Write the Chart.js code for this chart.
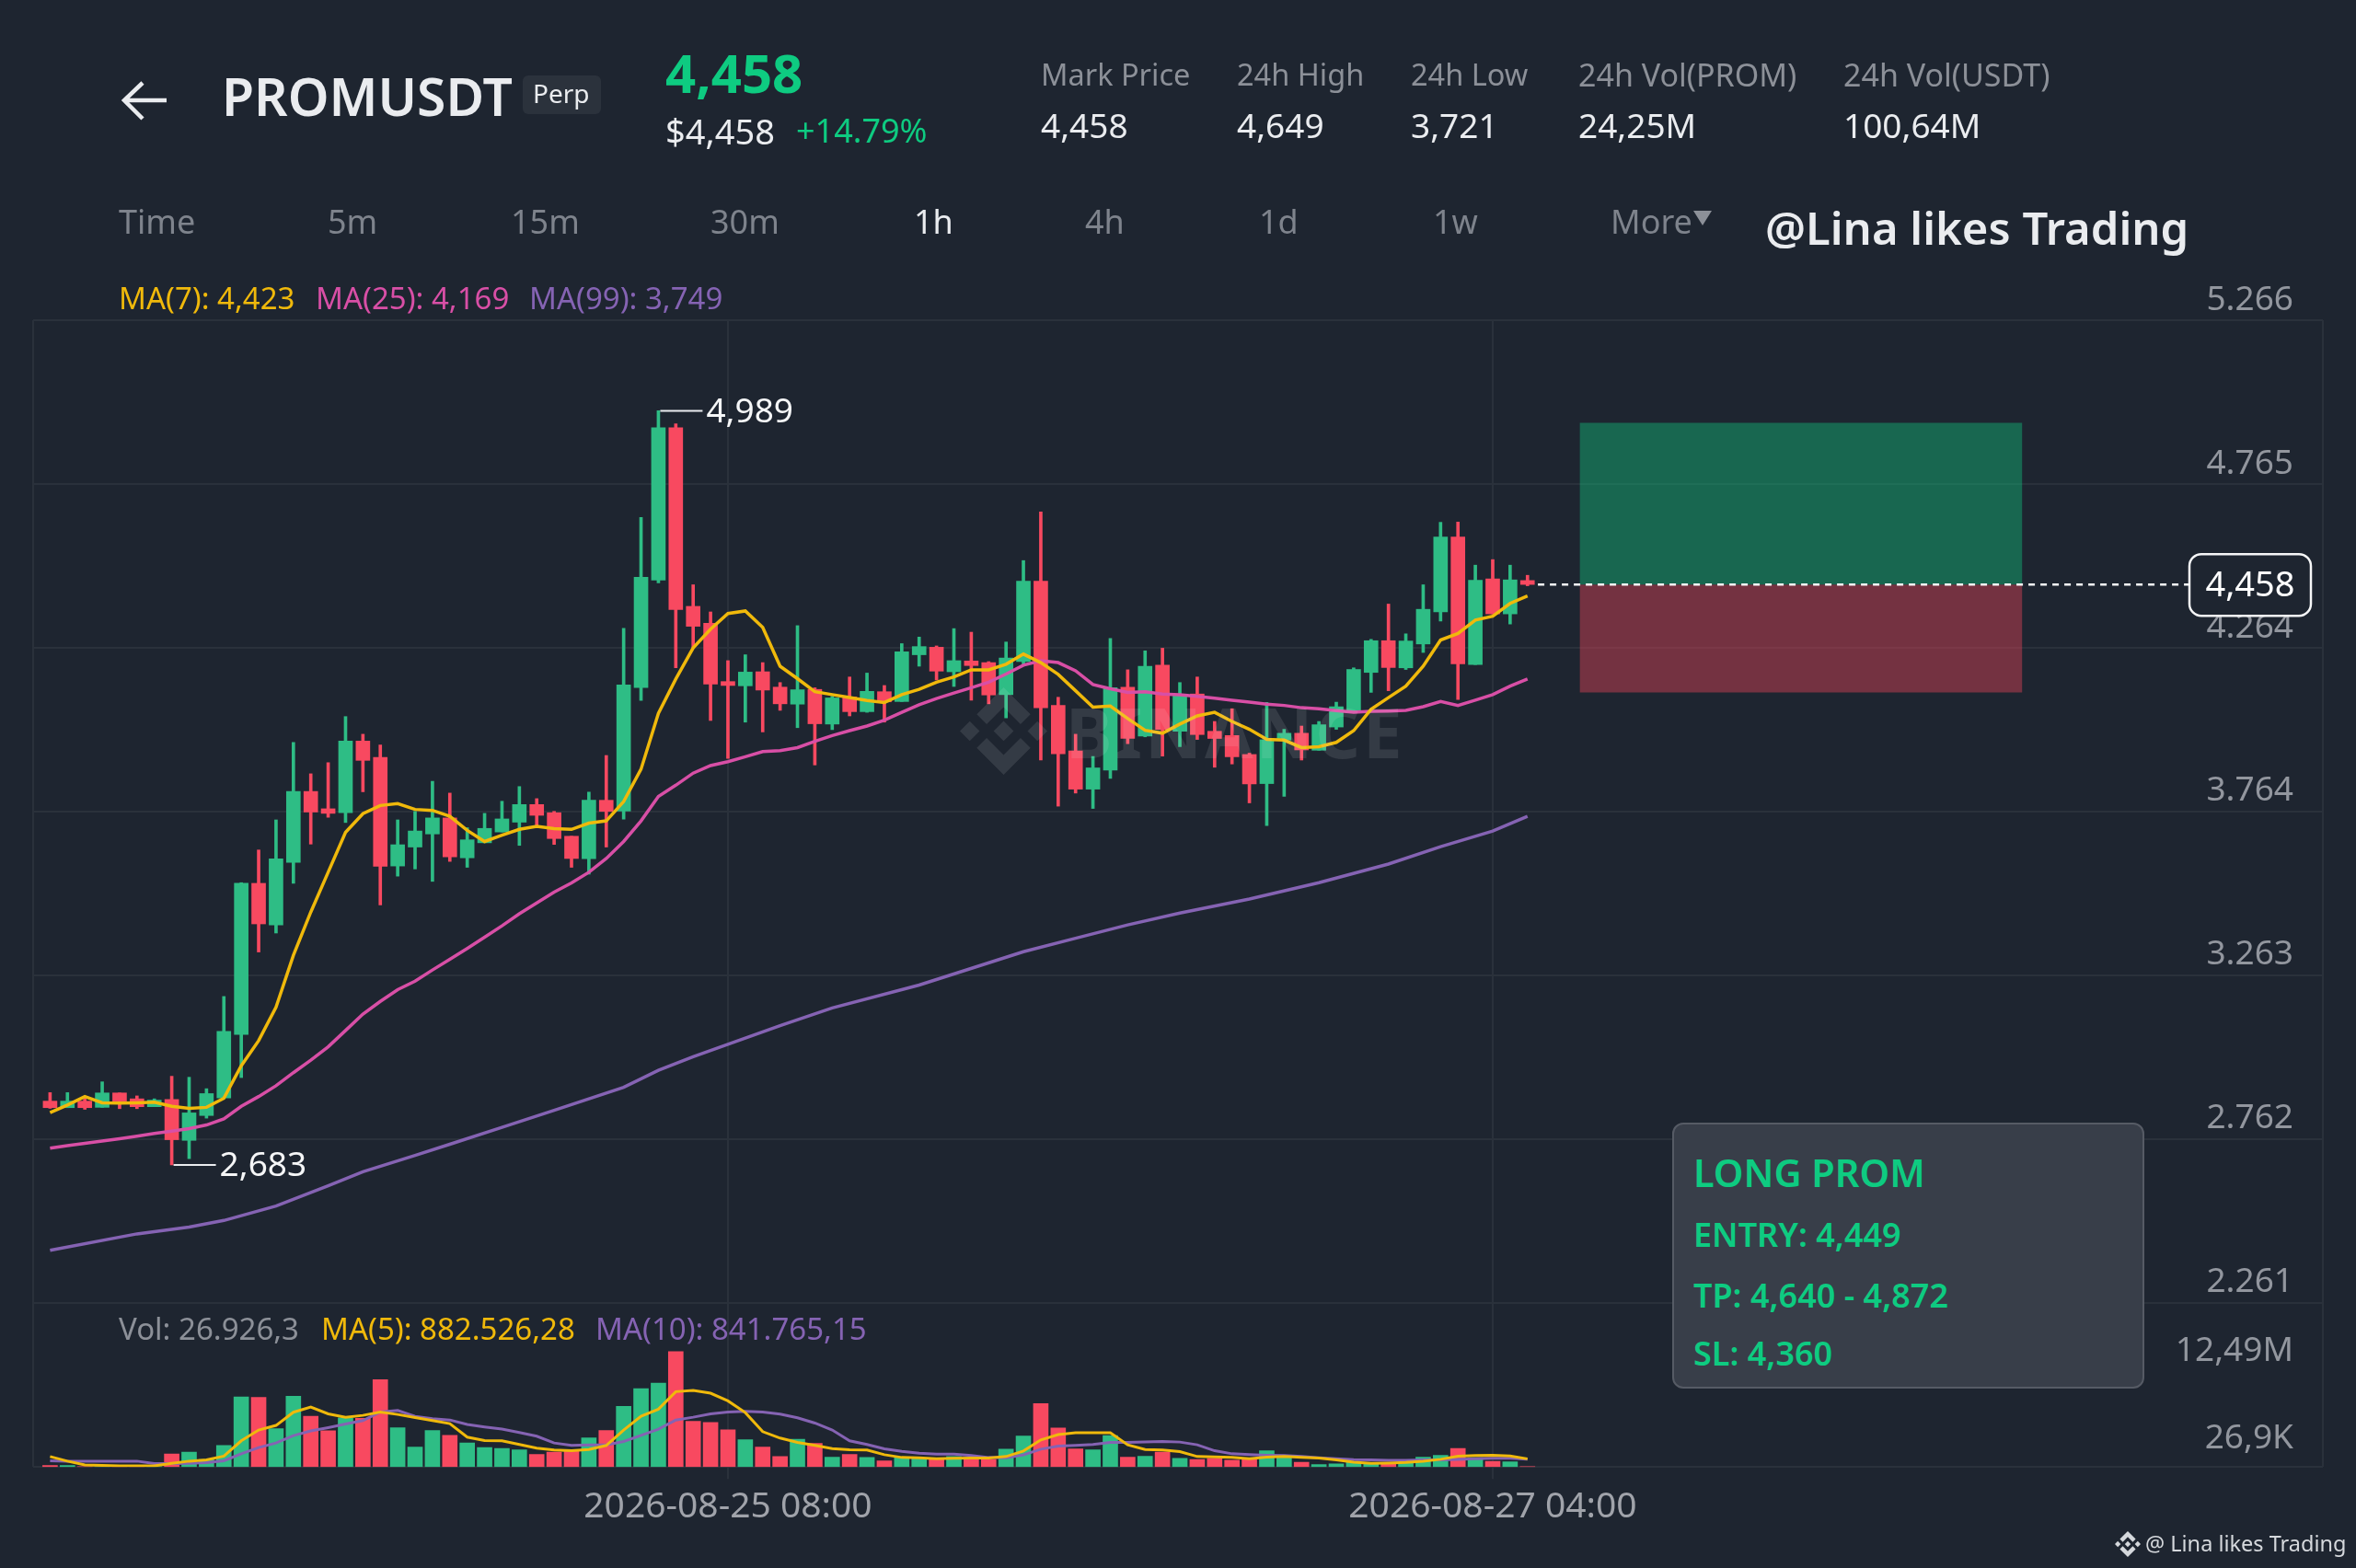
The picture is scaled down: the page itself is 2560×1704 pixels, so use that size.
<!DOCTYPE html>
<html>
<head>
<meta charset="utf-8">
<title>PROMUSDT</title>
<script src="https://cdn.jsdelivr.net/npm/chart.js@4/dist/chart.umd.min.js"></script>
<style>
    html, body { margin: 0; padding: 0; background: #1e2530; }
    #page { position: relative; width: 2560px; height: 1704px; overflow: hidden; font-family: "Noto Sans", sans-serif; }
    canvas { position: absolute; left: 0; top: 0; }
    .t { position: absolute; white-space: nowrap; line-height: 1; transform: translateY(-50%); }
    .grey { font-size: 32.5px; color: #8c9098; }
    .val { font-size: 37px; color: #eaecef; }
    .tab { font-size: 36px; color: #7e838c; }
    .ma { font-size: 33px; }
    .yellow { color: #f0b90b; }
    .pink { color: #d84fa6; }
    .purple { color: #8563b3; }
    .green { color: #0ecb81; }
    #perp { position: absolute; left: 568px; top: 82px; width: 85px; height: 42px; background: #2b323c; border-radius: 6px; }
    #info { position: absolute; left: 1817px; top: 1220px; width: 513px; height: 289px; box-sizing: border-box;
            background: #383e49; border: 2px solid #565b65; border-radius: 12px; }
</style>
</head>
<body>
<div id="page">
    <canvas id="chart" width="2560" height="1704"></canvas>

    <svg style="position:absolute;left:0;top:0" width="200" height="150">
        <path d="M155 90 L135 109 L155 129 M135 109 L181 109" fill="none" stroke="#eaecef" stroke-width="4.5"/>
    </svg>
    <span class="t" style="left:241px;top:104px;font-size:57px;font-weight:600;color:#eaecef">PROMUSDT</span>
    <div id="perp"></div>
    <span class="t" style="left:579px;top:101px;font-size:28px;color:#eaecef">Perp</span>
    <span class="t green" style="left:723px;top:79px;font-size:58px;font-weight:700">4,458</span>
    <span class="t val" style="left:723px;top:142px;font-size:38px">$4,458</span>
    <span class="t green" style="left:865px;top:142px;font-size:36px">+14.79%</span>

    <span class="t grey" style="left:1131px;top:81px">Mark Price</span>
    <span class="t val" style="left:1131px;top:135px">4,458</span>
    <span class="t grey" style="left:1344px;top:81px">24h High</span>
    <span class="t val" style="left:1344px;top:135px">4,649</span>
    <span class="t grey" style="left:1533px;top:81px">24h Low</span>
    <span class="t val" style="left:1533px;top:135px">3,721</span>
    <span class="t grey" style="left:1715px;top:81px;font-size:34px">24h Vol(PROM)</span>
    <span class="t val" style="left:1715px;top:135px">24,25M</span>
    <span class="t grey" style="left:2003px;top:81px;font-size:34px">24h Vol(USDT)</span>
    <span class="t val" style="left:2003px;top:135px">100,64M</span>

    <span class="t tab" style="left:129px;top:241px">Time</span>
    <span class="t tab" style="left:356px;top:241px">5m</span>
    <span class="t tab" style="left:555px;top:241px">15m</span>
    <span class="t tab" style="left:772px;top:241px">30m</span>
    <span class="t tab" style="left:993px;top:241px;color:#eaecef">1h</span>
    <span class="t tab" style="left:1179px;top:241px">4h</span>
    <span class="t tab" style="left:1368px;top:241px">1d</span>
    <span class="t tab" style="left:1557px;top:241px">1w</span>
    <span class="t tab" style="left:1750px;top:241px">More</span>
    <svg style="position:absolute;left:1840px;top:229px" width="22" height="17"><path d="M0 0 L20 0 L10 16 Z" fill="#8c9098"/></svg>
    <span class="t" style="left:1918px;top:247px;font-size:49px;font-weight:600;color:#eaecef">@Lina likes Trading</span>

    <span class="t ma yellow" style="left:129px;top:323px">MA(7): 4,423</span>
    <span class="t ma pink" style="left:343px;top:323px">MA(25): 4,169</span>
    <span class="t ma purple" style="left:575px;top:323px">MA(99): 3,749</span>

    <span class="t ma" style="left:129px;top:1443px;color:#8c9098">Vol: 26.926,3</span>
    <span class="t ma yellow" style="left:349px;top:1443px">MA(5): 882.526,28</span>
    <span class="t ma purple" style="left:647px;top:1443px">MA(10): 841.765,15</span>

    <svg style="position:absolute;left:1043px;top:747px;opacity:.1" width="95" height="95" viewBox="0 0 126.61 126.61">
        <path fill="#fff" d="M38.73 53.2l24.59-24.58 24.6 24.6 14.3-14.31L63.32 0 24.42 38.9l14.31 14.3zM0 63.31l14.3-14.31 14.31 14.31-14.31 14.3zm38.73 10.11l24.59 24.59 24.6-24.6 14.31 14.29-38.9 38.91-38.91-38.88-.02-.02zm59.27-10.1l14.3-14.31 14.31 14.3-14.31 14.31z"/>
        <path fill="#fff" d="M77.83 63.3L63.32 48.78 52.59 59.51l-1.24 1.23-2.54 2.54 14.51 14.5 14.51-14.47z"/>
    </svg>
    <span class="t" style="left:1158px;top:795px;font-size:76px;font-weight:700;letter-spacing:3px;color:rgba(255,255,255,.1)">BINANCE</span>

    <div id="info"></div>
    <span class="t green" style="left:1840px;top:1275px;font-size:41.5px;font-weight:600">LONG PROM</span>
    <span class="t green" style="left:1840px;top:1342px;font-size:36px;font-weight:600">ENTRY: 4,449</span>
    <span class="t green" style="left:1840px;top:1408px;font-size:36px;font-weight:600">TP: 4,640 - 4,872</span>
    <span class="t green" style="left:1840px;top:1471px;font-size:36px;font-weight:600">SL: 4,360</span>

    <svg style="position:absolute;left:2298px;top:1664px" width="28" height="28" viewBox="0 0 126.61 126.61">
        <path fill="#d5d8dc" d="M38.73 53.2l24.59-24.58 24.6 24.6 14.3-14.31L63.32 0 24.42 38.9l14.31 14.3zM0 63.31l14.3-14.31 14.31 14.31-14.31 14.3zm38.73 10.11l24.59 24.59 24.6-24.6 14.31 14.29-38.9 38.91-38.91-38.88-.02-.02zm59.27-10.1l14.3-14.31 14.31 14.3-14.31 14.31z"/>
        <path fill="#d5d8dc" d="M77.83 63.3L63.32 48.78 52.59 59.51l-1.24 1.23-2.54 2.54 14.51 14.5 14.51-14.47z"/>
    </svg>
    <span class="t" style="left:2331px;top:1678px;font-size:23.5px;color:#d5d8dc">@ Lina likes Trading</span>
</div>

<script>
// hourly candles, values
const opens = [2.878,2.858,2.878,2.859,2.903,2.885,2.861,2.883,2.758,2.834,2.888,3.082,3.544,3.417,3.608,3.825,3.772,3.760,3.979,3.929,3.597,3.655,3.695,3.744,3.622,3.668,3.701,3.731,3.785,3.760,3.688,3.619,3.798,3.765,4.143,4.471,4.937,4.391,4.339,4.161,4.148,4.191,4.144,4.092,4.137,4.031,4.114,4.069,4.130,4.100,4.243,4.266,4.191,4.224,4.219,4.121,4.222,4.468,4.088,3.949,3.832,3.890,4.144,3.994,4.211,4.009,4.123,4.009,3.996,3.938,3.849,3.982,4.003,3.951,4.022,4.071,4.189,4.286,4.203,4.276,4.374,4.603,4.213,4.475,4.368,4.470];
const closes = [2.858,2.878,2.858,2.903,2.878,2.861,2.881,2.760,2.842,2.901,3.091,3.544,3.420,3.619,3.825,3.762,3.758,3.979,3.920,3.596,3.662,3.704,3.744,3.625,3.677,3.712,3.741,3.785,3.752,3.681,3.620,3.798,3.764,4.151,4.480,4.937,4.381,4.330,4.153,4.149,4.190,4.135,4.093,4.136,4.032,4.111,4.069,4.131,4.099,4.252,4.268,4.193,4.225,4.210,4.120,4.233,4.468,4.081,3.940,3.832,3.897,4.142,3.987,4.208,4.015,4.119,3.999,3.987,3.931,3.848,3.983,4.003,3.952,4.029,4.084,4.198,4.286,4.204,4.285,4.382,4.603,4.215,4.471,4.368,4.472,4.458];
const highs = [2.904,2.904,2.892,2.937,2.903,2.894,2.885,2.954,2.951,2.916,3.198,3.546,3.646,3.738,3.975,3.879,3.913,4.054,4.000,3.967,3.738,3.764,3.856,3.820,3.714,3.758,3.795,3.840,3.803,3.764,3.688,3.823,3.935,4.324,4.663,4.989,4.949,4.457,4.374,4.225,4.243,4.219,4.158,4.332,4.142,4.116,4.175,4.187,4.149,4.277,4.297,4.270,4.323,4.312,4.222,4.282,4.531,4.680,4.113,4.000,3.932,4.293,4.197,4.255,4.263,4.158,4.175,4.039,4.078,3.942,4.097,4.015,4.025,4.039,4.098,4.203,4.290,4.398,4.307,4.457,4.648,4.649,4.517,4.534,4.517,4.486];
const lows = [2.856,2.858,2.853,2.859,2.855,2.855,2.861,2.683,2.702,2.826,2.888,2.950,3.334,3.392,3.544,3.664,3.746,3.730,3.824,3.478,3.566,3.588,3.550,3.611,3.593,3.668,3.701,3.660,3.722,3.663,3.593,3.572,3.655,3.740,4.103,4.463,4.203,4.264,4.042,3.926,4.037,4.007,4.073,4.020,3.906,4.014,4.056,4.067,4.037,4.100,4.208,4.166,4.146,4.104,4.093,4.050,4.215,3.921,3.780,3.820,3.773,3.865,3.971,3.992,3.933,3.962,3.984,3.899,3.909,3.790,3.721,3.810,3.921,3.951,4.015,4.071,4.128,4.133,4.198,4.250,4.346,4.106,4.213,4.368,4.337,4.454];

const ma7 = [2.843,2.866,2.892,2.873,2.872,2.873,2.875,2.862,2.856,2.859,2.887,2.986,3.063,3.165,3.324,3.456,3.578,3.700,3.757,3.782,3.788,3.770,3.767,3.749,3.706,3.672,3.691,3.709,3.718,3.711,3.709,3.728,3.735,3.794,3.893,4.064,4.169,4.264,4.321,4.369,4.377,4.327,4.208,4.170,4.130,4.121,4.112,4.103,4.097,4.121,4.137,4.159,4.175,4.197,4.197,4.214,4.245,4.219,4.183,4.133,4.083,4.086,4.048,4.012,4.003,4.031,4.056,4.067,4.039,4.015,3.984,3.982,3.959,3.962,3.975,4.011,4.076,4.112,4.147,4.208,4.288,4.308,4.349,4.361,4.400,4.423];
const ma25 = [2.734,2.742,2.749,2.756,2.763,2.771,2.779,2.786,2.794,2.805,2.824,2.862,2.892,2.925,2.965,3.003,3.044,3.094,3.144,3.183,3.219,3.245,3.279,3.312,3.345,3.379,3.414,3.451,3.484,3.517,3.545,3.578,3.620,3.672,3.735,3.810,3.844,3.881,3.904,3.916,3.931,3.947,3.950,3.959,3.978,3.996,4.011,4.025,4.043,4.067,4.090,4.109,4.126,4.142,4.159,4.184,4.211,4.225,4.219,4.194,4.152,4.139,4.128,4.130,4.123,4.121,4.116,4.110,4.104,4.098,4.092,4.088,4.081,4.078,4.072,4.067,4.070,4.071,4.073,4.084,4.100,4.088,4.104,4.121,4.147,4.169];
// the slow line is nearly straight, read at these candles only
const ma99At = [0,5,8,10,13,16,18,21,23,26,29,33,35,37,39,42,45,50,56,59,62,65,69,73,77,80,83,85];
const ma99 = [2.422,2.472,2.493,2.513,2.557,2.619,2.662,2.712,2.746,2.798,2.850,2.920,2.972,3.014,3.052,3.109,3.163,3.233,3.335,3.376,3.417,3.453,3.496,3.546,3.603,3.656,3.704,3.749];

// volume in millions
const volumes = [0.17,0.17,0.03,0.03,0.03,0.02,0.03,1.40,1.60,0.80,2.33,7.59,7.53,4.16,7.66,5.49,3.93,5.33,5.26,9.46,4.26,2.16,3.96,3.43,2.60,2.10,2.00,1.86,1.37,1.60,1.70,3.16,3.96,6.56,8.49,9.09,12.49,4.96,4.83,4.03,2.96,2.16,1.13,3.00,2.56,1.07,1.37,1.03,0.67,1.00,0.93,0.90,1.13,0.93,0.80,1.93,3.36,6.86,4.23,1.96,1.86,3.40,1.07,1.17,1.60,0.93,0.80,0.93,0.73,0.87,1.76,1.03,0.50,0.27,0.33,0.50,0.40,0.40,0.50,1.07,1.27,2.00,1.00,0.60,0.57,0.027];
const volMa5 = [1.13,0.63,0.23,0.17,0.13,0.13,0.13,0.40,0.63,0.77,1.17,2.83,4.00,4.50,5.93,6.49,5.76,5.39,5.59,5.96,5.69,5.36,5.03,4.70,3.23,2.86,2.83,2.43,2.03,1.83,1.76,1.90,2.33,4.00,5.49,6.26,8.16,8.29,7.99,7.16,5.89,3.83,3.13,2.66,2.33,2.00,1.86,1.83,1.33,1.03,1.00,0.90,0.93,0.97,0.97,1.13,1.73,2.93,3.50,3.70,3.70,3.70,2.40,1.90,1.83,1.67,1.13,1.10,1.03,0.90,1.07,1.13,1.03,0.97,0.77,0.53,0.40,0.43,0.50,0.63,0.83,1.17,1.23,1.27,1.20,0.88];
const volMa10 = [0.67,0.63,0.63,0.63,0.63,0.63,0.37,0.37,0.40,0.47,0.67,1.43,2.10,2.60,3.40,3.90,4.26,4.66,5.03,5.96,6.13,5.49,5.23,5.09,4.60,4.33,4.10,3.73,3.33,2.60,2.33,2.40,2.40,2.76,3.43,4.10,5.09,5.39,5.76,5.96,6.03,5.96,5.73,5.33,4.76,4.00,2.83,2.43,1.96,1.70,1.50,1.40,1.40,1.23,1.03,1.00,1.30,1.93,2.26,2.33,2.43,2.66,2.66,2.70,2.76,2.70,2.40,1.76,1.43,1.33,1.27,1.23,1.13,1.00,0.90,0.80,0.77,0.73,0.73,0.77,0.77,0.83,0.90,0.93,0.93,0.84];

// axes
const priceTicks = [5.266,4.765,4.264,3.764,3.263,2.762,2.261];
const priceTickLabels = ["5.266","4.765","4.264","3.764","3.263","2.762","2.261"];
const volTicks = [12.49,0.027];
const volTickLabels = ["12,49M","26,9K"];
const timeTicks = [39,83];
const timeTickLabels = ["2026-08-25 08:00","2026-08-27 04:00"];

// trade zone and last price
const zoneStart = 88, zoneEnd = 113.47;
const zoneTop = 4.952, zoneEntry = 4.458, zoneBottom = 4.128;
const lastPrice = 4.458, lastPriceLabel = "4,458";
const priceLineEnd = 123.5;
const highMark = { at: 35, value: 4.989, text: "4,989" };
const lowMark = { at: 7, value: 2.683, text: "2,683" };

const GREEN = "#2ebd85", RED = "#f84960";
const GRID = "#2a313b", AXIS_TEXT = "#92969e";

const candleColors = closes.map((c, i) => c >= opens[i] ? GREEN : RED);
const xy = (values) => values.map((v, i) => ({ x: i, y: v }));

function lineSet(data, color, axis, width, order) {
    return { type: "line", data: data, yAxisID: axis, borderColor: color, borderWidth: width,
             pointRadius: 0, tension: 0, fill: false, order: order };
}

const marksPlugin = {
    id: "marks",
    afterDatasetsDraw(chart) {
        const ctx = chart.ctx, x = chart.scales.x, y = chart.scales.y;
        ctx.save();
        ctx.font = '37px "Noto Sans"';
        ctx.textBaseline = "middle";
        ctx.textAlign = "left";
        [highMark, lowMark].forEach(m => {
            const px = x.getPixelForValue(m.at), py = y.getPixelForValue(m.value);
            ctx.strokeStyle = "#eaecef";
            ctx.lineWidth = 2;
            ctx.beginPath();
            ctx.moveTo(px + 2, py);
            ctx.lineTo(px + 48, py);
            ctx.stroke();
            ctx.fillStyle = "#f5f6f7";
            ctx.fillText(m.text, px + 52, py + 2);
        });
        // last price tag
        const tagY = y.getPixelForValue(lastPrice);
        ctx.beginPath();
        ctx.roundRect(2379, tagY - 33, 132, 67, 13);
        ctx.fillStyle = "#1e2530";
        ctx.fill();
        ctx.strokeStyle = "#f5f6f7";
        ctx.lineWidth = 2.5;
        ctx.stroke();
        ctx.fillStyle = "#ffffff";
        ctx.font = '38px "Noto Sans"';
        ctx.textAlign = "center";
        ctx.fillText(lastPriceLabel, 2445, tagY + 2);
        ctx.restore();
    }
};

new Chart(document.getElementById("chart"), {
    type: "bar",
    data: {
        datasets: [
            { data: [{ x: zoneStart, y: zoneTop }, { x: zoneEnd, y: zoneTop }], type: "line", yAxisID: "y",
              fill: { value: zoneEntry }, backgroundColor: "rgba(14,203,129,0.4)", borderWidth: 0, pointRadius: 0, order: 9 },
            { data: [{ x: zoneStart, y: zoneBottom }, { x: zoneEnd, y: zoneBottom }], type: "line", yAxisID: "y",
              fill: { value: zoneEntry }, backgroundColor: "rgba(246,70,93,0.4)", borderWidth: 0, pointRadius: 0, order: 9 },
            { data: lows.map((l, i) => ({ x: i, y: [l, highs[i]] })), yAxisID: "y", grouped: false,
              backgroundColor: candleColors, barThickness: 3, order: 8 },
            { data: opens.map((o, i) => ({ x: i, y: [o, closes[i]] })), yAxisID: "y", grouped: false,
              backgroundColor: candleColors, barThickness: 15, minBarLength: 2, order: 7 },
            lineSet(ma99.map((v, i) => ({ x: ma99At[i], y: v })), "#8563b3", "y", 3.5, 6),
            lineSet(xy(ma25), "#d84fa6", "y", 3.5, 5),
            lineSet(xy(ma7), "#f0b90b", "y", 3.5, 4),
            { data: xy(volumes), yAxisID: "vol", grouped: false,
              backgroundColor: candleColors, barThickness: 16, order: 8 },
            lineSet(xy(volMa10), "#8563b3", "vol", 3, 3),
            lineSet(xy(volMa5), "#f0b90b", "vol", 3, 2),
            { data: [{ x: 85.6, y: lastPrice }, { x: priceLineEnd, y: lastPrice }], type: "line", yAxisID: "y",
              borderColor: "#f5f6f7", borderWidth: 2.5, borderDash: [7, 6], pointRadius: 0, order: 1 }
        ]
    },
    options: {
        responsive: false,
        devicePixelRatio: 1,
        animation: false,
        layout: { padding: { left: 36, right: 36, top: 348, bottom: 36 } },
        plugins: { legend: { display: false }, tooltip: { enabled: false } },
        scales: {
            x: {
                type: "linear",
                offset: false,
                min: -0.974,
                max: 130.76,
                afterBuildTicks: (scale) => {
                    scale.ticks = [scale.min].concat(timeTicks, [scale.max]).map(v => ({ value: v }));
                },
                grid: { offset: false, color: GRID, lineWidth: 2, drawTicks: true, tickLength: 13,
                        tickColor: (c) => timeTicks.includes(c.tick && c.tick.value) ? GRID : "transparent" },
                border: { display: false },
                ticks: {
                    autoSkip: false, maxRotation: 0, padding: 7, color: "#a0a3aa",
                    font: { family: "Noto Sans", size: 39 },
                    callback: (v) => { const i = timeTicks.indexOf(v); return i < 0 ? "" : timeTickLabels[i]; }
                }
            },
            y: {
                position: "right",
                stack: "panes",
                stackWeight: 1066,
                min: 2.261,
                max: 5.266,
                afterBuildTicks: (scale) => { scale.ticks = priceTicks.map(v => ({ value: v })); },
                afterFit: (scale) => { scale.width = 0; },
                grid: { color: GRID, lineWidth: 2, drawTicks: false },
                border: { display: false },
                ticks: {
                    mirror: true, autoSkip: false, padding: -32, color: AXIS_TEXT,
                    font: { family: "Noto Sans", size: 37, lineHeight: "44px" },
                    // second empty line lifts the label above its grid line
                    callback: (v) => [priceTickLabels[priceTicks.indexOf(v)], ""]
                }
            },
            vol: {
                position: "right",
                stack: "panes",
                stackWeight: 178,
                min: 0,
                max: 17.78,
                afterBuildTicks: (scale) => { scale.ticks = volTicks.map(v => ({ value: v })); },
                afterFit: (scale) => { scale.width = 0; },
                grid: { drawTicks: false, lineWidth: 2,
                        color: (c) => c.tick && c.tick.value === volTicks[1] ? GRID : "transparent" },
                border: { display: false },
                ticks: {
                    mirror: true, autoSkip: false, padding: -32, color: AXIS_TEXT,
                    font: { family: "Noto Sans", size: 37, lineHeight: "60px" },
                    callback: (v) => v === volTicks[1] ? [volTickLabels[1], ""] : volTickLabels[0]
                }
            }
        }
    },
    plugins: [marksPlugin]
});
</script>
</body>
</html>
